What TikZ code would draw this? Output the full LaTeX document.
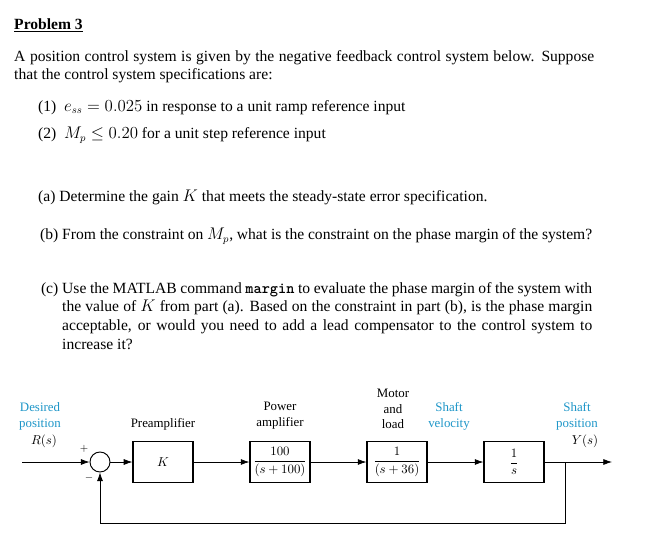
\documentclass[tikz,border=0pt]{standalone}
\usepackage{fontspec}
\setmainfont{Liberation Serif}
\usepackage{amsmath}
\usetikzlibrary{positioning,arrows,arrows.meta}
\definecolor{labcyan}{RGB}{30,150,200}
\begin{document}
\begin{tikzpicture}[x=0.03cm,y=-0.03cm,font=\fontsize{13.3}{16}\selectfont]

\tikzset{inner sep=0mm,
txt/.style={anchor=north west,align=justify,inner sep=0pt},
blk/.style={draw=black,line width=1pt,minimum width=18mm,minimum height=12.5mm,font=\fontsize{10.5}{11}\selectfont},
lab/.style={align=center,font=\fontsize{11}{13.5}\selectfont},
sig/.style={-{Latex[length=2.6mm,width=1.8mm]},semithick}}

\useasboundingbox (0,0) rectangle (654,558);

% Problem text
\node[txt] (title) at (14,18) {\textbf{\underline{Problem 3}}};
\node[txt,text width=17.4cm] (intro) at (14,50) {A position control system is given by the negative feedback control system below. Suppose that the control system specifications are:};
\node[txt] (spec1) at (38,100) {(1)\ \ $e_{ss}=0.025$ in response to a unit ramp reference input};
\node[txt] (spec2) at (38,127) {(2)\ \ $M_p\le 0.20$ for a unit step reference input};
\node[txt,text width=16.5cm] (qa) at (38,190) {(a)\ Determine the gain $K$ that meets the steady-state error specification.};
\node[txt,text width=15.9cm] (qb) at (62,228) {\llap{(b)\ }From the constraint on $M_p$, what is the constraint on the phase margin of the system?};
\node[txt,text width=15.9cm] (qc) at (62,282) {\llap{(c)\ }Use the MATLAB command \texttt{\textbf{margin}} to evaluate the phase margin of the system with the value of $K$ from part (a). Based on the constraint in part (b), is the phase margin acceptable, or would you need to add a lead compensator to the control system to increase it?};

% Block diagram
\coordinate (in) at (22,462);
\node[draw,circle,minimum size=6mm,thick] (sum) at (100,462) {};
\node[blk] (pre) at (163,462) {$K$};
\node[blk] (amp) at (280,462) {$\dfrac{100}{(s+100)}$};
\node[blk] (mot) at (397,462) {$\dfrac{1}{(s+36)}$};
\node[blk] (integ) at (514,462) {$\dfrac{1}{s}$};
\coordinate (out) at (612,462);
\coordinate (branch) at (565,462);
\coordinate (fbr) at (565,523);
\coordinate (fbl) at (100,523);

\draw[sig] (in) -- (sum);
\draw[sig] (sum) -- (pre);
\draw[sig] (pre) -- (amp);
\draw[sig] (amp) -- (mot);
\draw[sig] (mot) -- (integ);
\draw[sig] (integ) -- (out);
\draw[sig] (branch) -- (fbr) -- (fbl) -- (sum);

\node[font=\small] (plus) at (84,449) {$+$};
\node[font=\small] (minus) at (89,478) {$-$};

% Labels
\node[lab,text=labcyan] (desired) at (40,416) {Desired\\position};
\node[lab] (rs) at (44,441) {$R(s)$};
\node[lab] (prelab) at (163,424) {Preamplifier};
\node[lab] (amplab) at (280,416) {Power\\amplifier};
\node[lab] (motlab) at (393,409) {Motor\\and\\load};
\node[lab,text=labcyan] (vel) at (449,416) {Shaft\\velocity};
\node[lab,text=labcyan] (pos) at (577,416) {Shaft\\position};
\node[lab] (ys) at (585,441) {$Y(s)$};

\end{tikzpicture}
\end{document}
